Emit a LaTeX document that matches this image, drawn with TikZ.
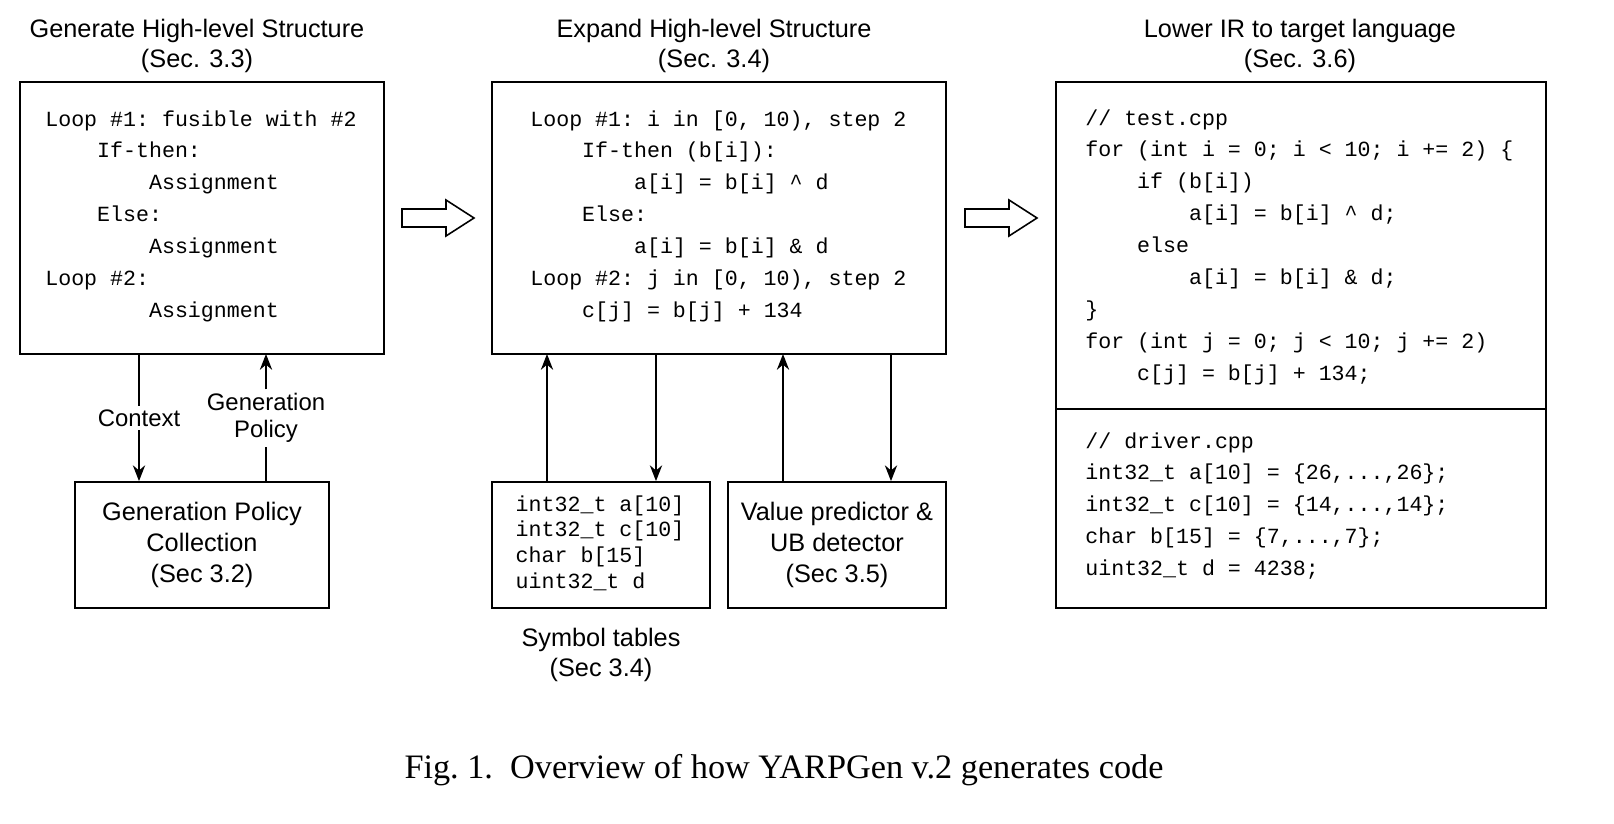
\documentclass[tikz,border=0pt]{standalone}
\usepackage{fontspec}
\setmainfont{Liberation Serif}
\setsansfont{Liberation Sans}
\setmonofont{Liberation Mono}
\usetikzlibrary{arrows.meta}
\newcommand{\ind}{\phantom{xxxx}}
\tikzset{
  box/.style={draw,line width=1pt},
  code/.style={anchor=north west,inner sep=0pt,align=left,
    font=\fontsize{12.3pt}{18.2pt}\selectfont\ttfamily},
  txt/.style={align=center,inner sep=1pt,font=\fontsize{14.4pt}{17.4pt}\selectfont\sffamily},
  lbl/.style={txt,fill=white,inner sep=2pt,font=\fontsize{13.6pt}{15.6pt}\selectfont\sffamily},
  link/.style={-{Stealth[length=9pt,width=7pt]},line width=0.8pt},
  hollow/.style={draw,line width=0.9pt,fill=white}
}
\begin{document}
\begin{tikzpicture}[x=0.02cm,y=-0.02cm]
\useasboundingbox (0,0) rectangle (1614,824);
% titles
\node[txt] (t1) at (197,46) {Generate High-level Structure\\(Sec. 3.3)};
\node[txt] (t2) at (714,46) {Expand High-level Structure\\(Sec. 3.4)};
\node[txt] (t3) at (1300,46) {Lower IR to target language\\(Sec. 3.6)};
% main boxes
\draw[box] (20,82) rectangle (384,354);
\draw[box] (492,82) rectangle (946,354);
\draw[box] (1056,82) rectangle (1546,608);
\draw[box] (1056,409) -- (1546,409);
\node[box,txt,minimum width=254*0.02cm,minimum height=126*0.02cm] (gpc) at (202,545) {Generation Policy\\Collection\\(Sec 3.2)};
\node[box,minimum width=218*0.02cm,minimum height=126*0.02cm] (sym) at (601,545) {};
\node[box,txt,minimum width=218*0.02cm,minimum height=126*0.02cm] (val) at (837,545) {Value predictor \&\\UB detector\\(Sec 3.5)};
\node[txt] (symlbl) at (601,655) {Symbol tables\\(Sec 3.4)};
% code
\node[code] (c1) at (45,110) {Loop \#1: fusible with \#2\\
\ind If-then:\\
\ind\ind Assignment\\
\ind Else:\\
\ind\ind Assignment\\
Loop \#2:\\
\ind\ind Assignment};
\node[code] (c2) at (530,110) {Loop \#1: i in [0, 10), step 2\\
\ind If-then (b[i]):\\
\ind\ind a[i] = b[i] \textasciicircum\ d\\
\ind Else:\\
\ind\ind a[i] = b[i] \& d\\
Loop \#2: j in [0, 10), step 2\\
\ind c[j] = b[j] + 134};
\node[code] (c3) at (1085,109) {// test.cpp\\
for (int i = 0; i < 10; i += 2) \{\\
\ind if (b[i])\\
\ind\ind a[i] = b[i] \textasciicircum\ d;\\
\ind else\\
\ind\ind a[i] = b[i] \& d;\\
\}\\
for (int j = 0; j < 10; j += 2)\\
\ind c[j] = b[j] + 134;};
\node[code] (c4) at (1085,432) {// driver.cpp\\
int32\_t a[10] = \{26,...,26\};\\
int32\_t c[10] = \{14,...,14\};\\
char b[15] = \{7,...,7\};\\
uint32\_t d = 4238;};
\node[code,anchor=center,font=\fontsize{12.3pt}{14.6pt}\selectfont\ttfamily] (c5) at (600,543) {int32\_t a[10]\\int32\_t c[10]\\char b[15]\\uint32\_t d};
% connectors
\node[lbl] (ctx) at (139,418) {Context};
\node[lbl] (gp) at (266,418) {Generation\\Policy};
\coordinate (b1a) at (139,354);
\coordinate (b1b) at (266,354);
\draw[line width=0.8pt] (b1a) -- (ctx);
\draw[link] (ctx) -- (ctx |- gpc.north);
\draw[line width=0.8pt] (gp |- gpc.north) -- (gp);
\draw[link] (gp) -- (b1b);
\draw[link] (sym.north -| 547,0) -- (547,354);
\draw[link] (656,354) -- (sym.north -| 656,0);
\draw[link] (val.north -| 783,0) -- (783,354);
\draw[link] (891,354) -- (val.north -| 891,0);
% hollow arrows
\foreach \x in {402,965}
  \draw[hollow] (\x,209) -- ++(44,0) -- ++(0,-9) -- ++(28,18) -- ++(-28,18) -- ++(0,-9) -- ++(-44,0) -- cycle;
% caption
\node[font=\fontsize{19.5pt}{23pt}\selectfont] (cap) at (784,770) {Fig.~1.\ \ Overview of how YARPGen v.2 generates code};
\end{tikzpicture}
\end{document}
